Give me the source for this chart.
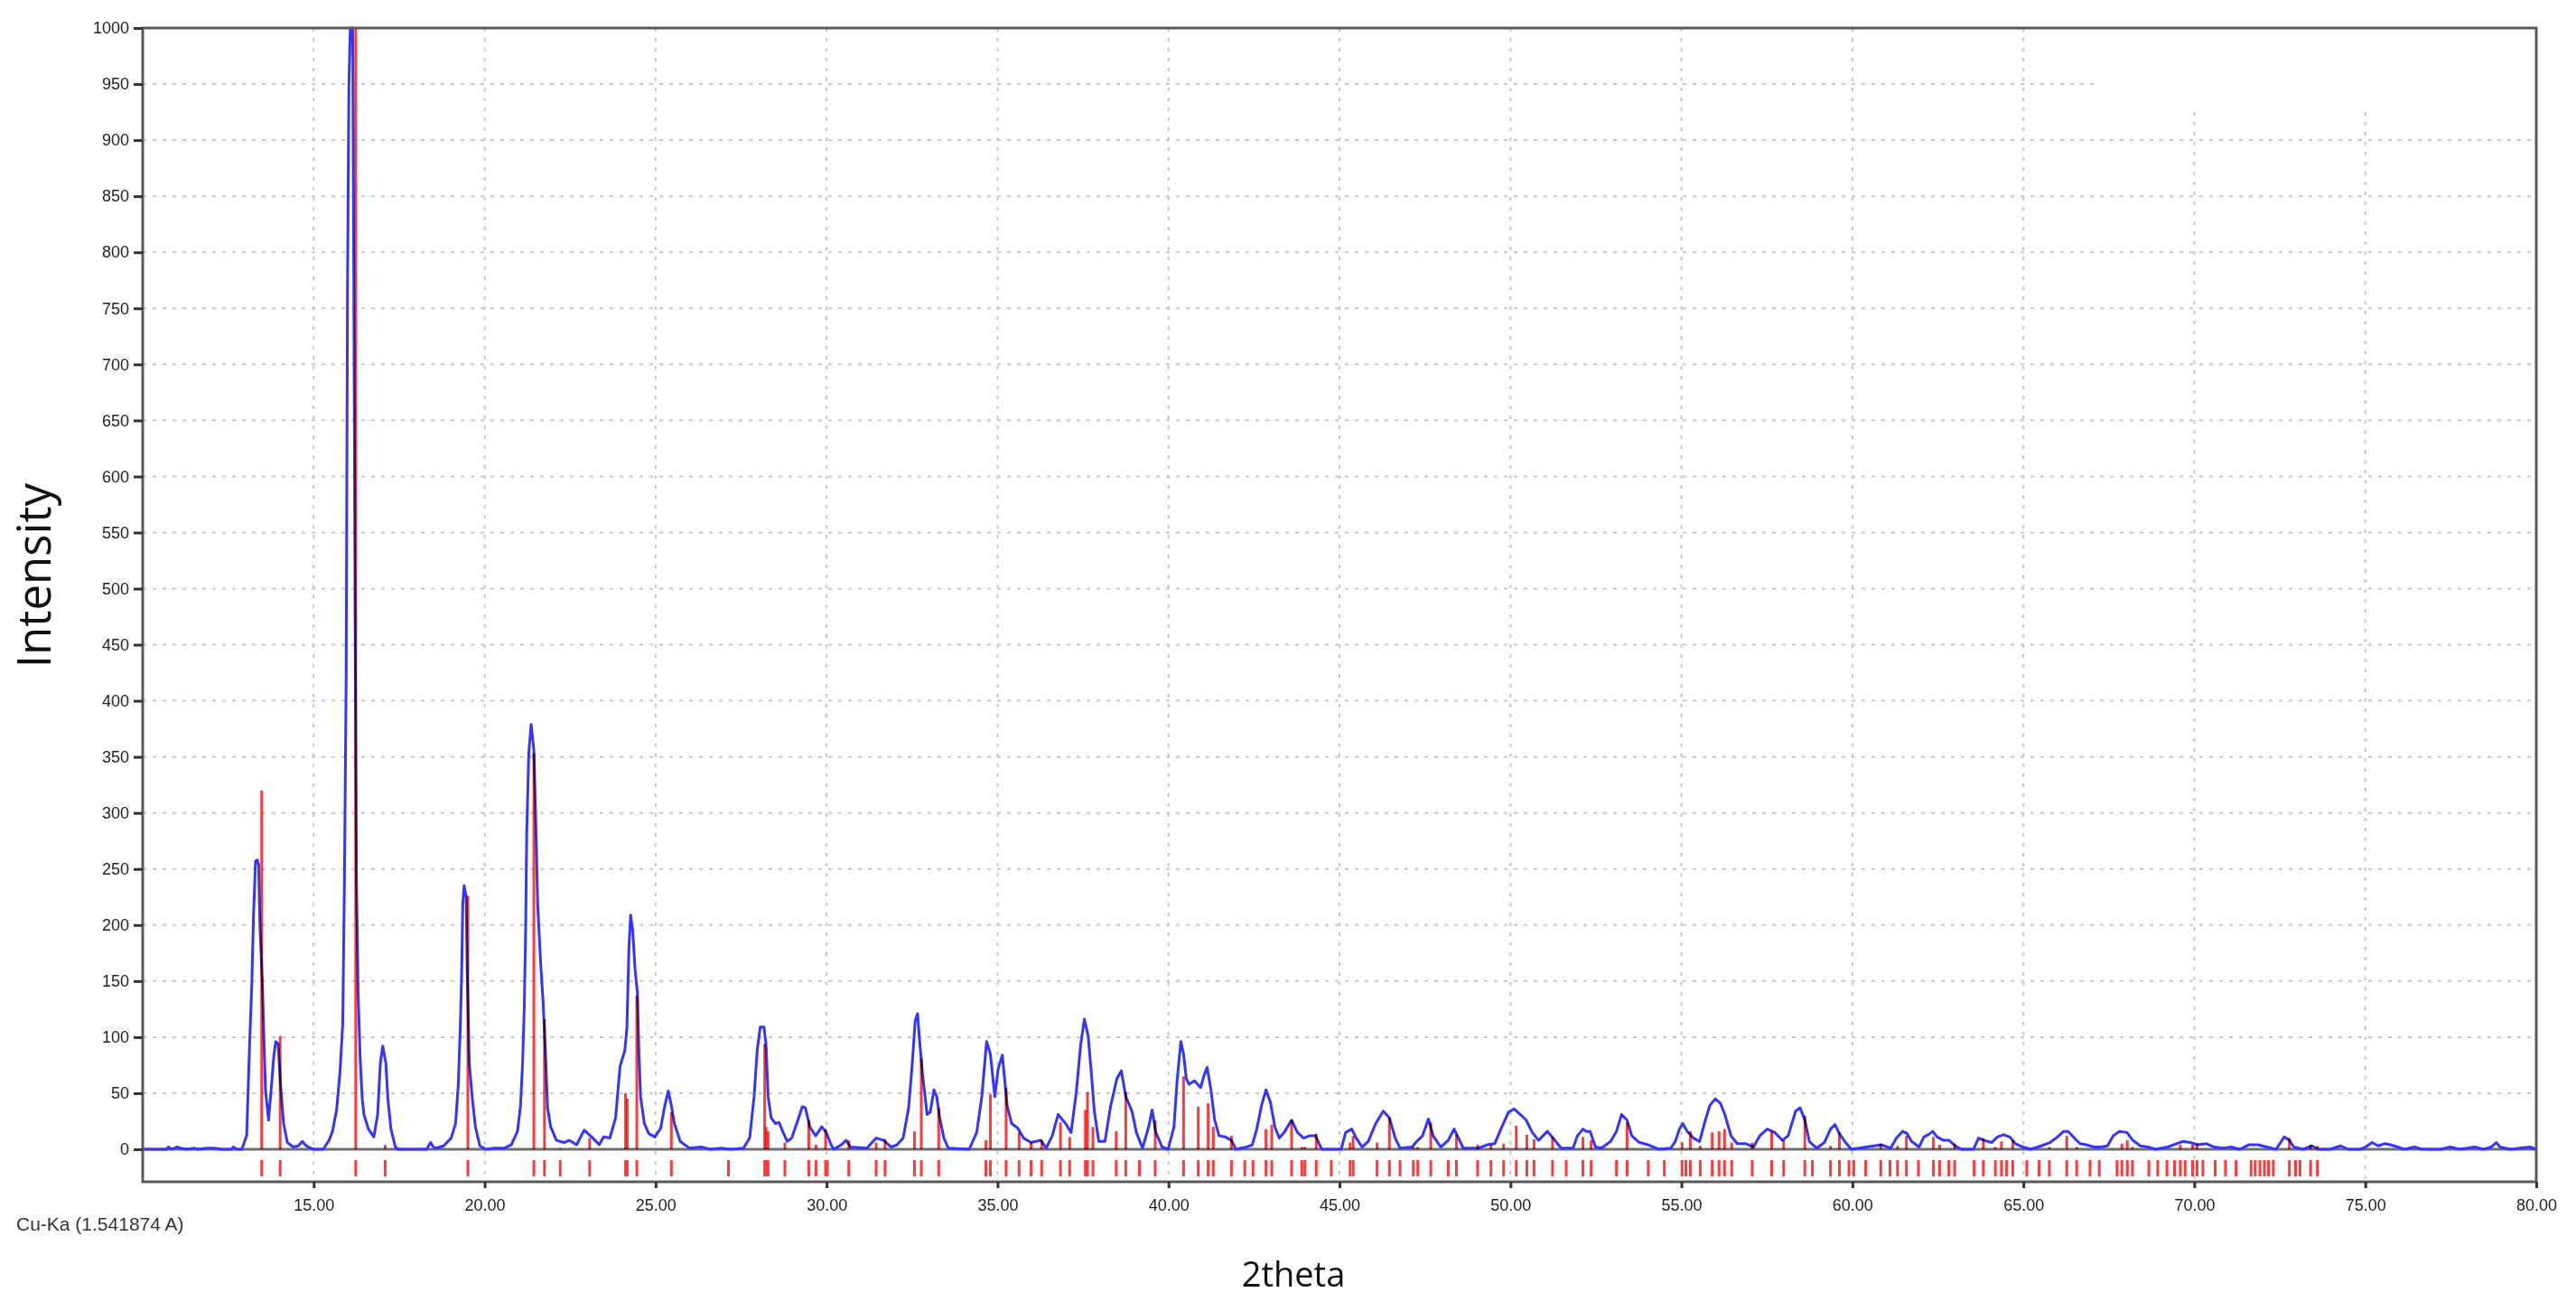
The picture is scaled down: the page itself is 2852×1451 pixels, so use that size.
<!DOCTYPE html>
<html>
<head>
<meta charset="utf-8">
<script src="https://cdn.jsdelivr.net/npm/d3@7"></script>
<style>
  body { margin: 0; background: #fff; }
  svg { display: block; }
</style>
</head>
<body>
<svg></svg>
<script>
'use strict'

// measured scan, [2theta, counts]
const scan = [
  [10.0, 0], [10.7, 0], [10.75, 2], [10.85, 0], [11.0, 2], [11.1, 1], [11.3, 0], [11.5, 1], [11.6, 0],
  [11.9, 1], [12.1, 1], [12.3, 0], [12.6, 0], [12.65, 2], [12.75, 0], [12.9, 0],
  [13.04, 12], [13.12, 88], [13.19, 147], [13.24, 208], [13.3, 257], [13.35, 258], [13.39, 254],
  [13.43, 198], [13.5, 149], [13.54, 104], [13.59, 53], [13.68, 26], [13.77, 58], [13.83, 82],
  [13.89, 96], [13.96, 94], [14.03, 58], [14.12, 23], [14.23, 6], [14.4, 2], [14.55, 3], [14.67, 7],
  [14.75, 4], [14.84, 2], [15.0, 0], [15.28, 0], [15.45, 8], [15.55, 16], [15.67, 35], [15.77, 69],
  [15.85, 112], [15.9, 241], [15.95, 421], [15.99, 772], [16.03, 948], [16.07, 1000], [16.14, 1000],
  [16.17, 800], [16.21, 490], [16.25, 240], [16.3, 139], [16.36, 80], [16.42, 45], [16.47, 31],
  [16.6, 18], [16.76, 11], [16.87, 31], [16.95, 77], [17.02, 92], [17.11, 77], [17.17, 45],
  [17.26, 18], [17.39, 2], [17.48, 0], [18.3, 0], [18.36, 3], [18.42, 6], [18.5, 2], [18.58, 1],
  [18.8, 3], [19.02, 10], [19.15, 23], [19.23, 58], [19.29, 112], [19.33, 160], [19.36, 219],
  [19.4, 235], [19.46, 225], [19.49, 160], [19.55, 77], [19.64, 45], [19.73, 20], [19.86, 3],
  [20.04, 0], [20.3, 1], [20.56, 1], [20.78, 4], [20.96, 16], [21.05, 39], [21.11, 77], [21.16, 128],
  [21.2, 198], [21.23, 281], [21.29, 353], [21.36, 379], [21.44, 356], [21.49, 300], [21.55, 219],
  [21.64, 165], [21.71, 131], [21.78, 85], [21.84, 37], [21.93, 20], [22.1, 8], [22.32, 6],
  [22.47, 8], [22.69, 4], [22.91, 17], [23.13, 11], [23.35, 4], [23.48, 11], [23.66, 10],
  [23.83, 28], [23.96, 74], [24.1, 88], [24.16, 108], [24.22, 180], [24.27, 209], [24.33, 195],
  [24.4, 160], [24.47, 139], [24.51, 88], [24.56, 47], [24.67, 23], [24.8, 14], [24.98, 11],
  [25.15, 19], [25.27, 39], [25.37, 52], [25.46, 39], [25.55, 23], [25.72, 7], [25.99, 1],
  [26.34, 2], [26.6, 0], [26.9, 1], [27.2, 0], [27.57, 1], [27.75, 10], [27.88, 47], [27.97, 88],
  [28.06, 109], [28.17, 109], [28.23, 93], [28.29, 47], [28.38, 28], [28.5, 23], [28.61, 24],
  [28.73, 15], [28.85, 7], [28.98, 10], [29.16, 26], [29.29, 38], [29.38, 37], [29.51, 20],
  [29.68, 12], [29.86, 20], [29.99, 15], [30.13, 4], [30.21, 0], [30.43, 4], [30.57, 8], [30.7, 2],
  [31.18, 1], [31.45, 10], [31.67, 8], [31.89, 2], [32.06, 4], [32.24, 10], [32.4, 37], [32.5, 74],
  [32.59, 114], [32.66, 121], [32.73, 93], [32.81, 66], [32.94, 31], [33.03, 33], [33.14, 53],
  [33.22, 47], [33.31, 28], [33.43, 10], [33.56, 1], [34.17, 0], [34.39, 15], [34.54, 47],
  [34.68, 96], [34.79, 85], [34.92, 47], [35.02, 72], [35.14, 84], [35.28, 39], [35.41, 23],
  [35.59, 19], [35.76, 10], [35.98, 6], [36.27, 8], [36.42, 1], [36.6, 12], [36.77, 31], [36.99, 23],
  [37.15, 15], [37.3, 50], [37.43, 93], [37.54, 116], [37.65, 101], [37.74, 69], [37.83, 34],
  [37.96, 7], [38.14, 7], [38.31, 39], [38.49, 63], [38.62, 70], [38.75, 47], [38.93, 34],
  [39.06, 15], [39.24, 1], [39.42, 20], [39.52, 35], [39.63, 15], [39.81, 2], [39.99, 0],
  [40.16, 20], [40.25, 61], [40.36, 96], [40.44, 85], [40.52, 63], [40.6, 58], [40.76, 61],
  [40.94, 55], [41.04, 66], [41.13, 73], [41.24, 53], [41.35, 26], [41.48, 12], [41.66, 11],
  [41.84, 8], [41.97, 0], [42.28, 2], [42.45, 4], [42.58, 18], [42.72, 39], [42.85, 53], [42.98, 42],
  [43.11, 20], [43.24, 10], [43.38, 15], [43.6, 26], [43.77, 15], [43.95, 10], [44.12, 12],
  [44.3, 12], [44.48, 0], [45.05, 0], [45.18, 15], [45.36, 18], [45.49, 10], [45.66, 2], [45.84, 7],
  [46.06, 23], [46.28, 34], [46.46, 28], [46.63, 10], [46.77, 1], [47.12, 2], [47.29, 8], [47.43, 12],
  [47.6, 27], [47.74, 12], [47.96, 2], [48.18, 8], [48.35, 18], [48.48, 10], [48.62, 1], [49.06, 1],
  [49.32, 4], [49.54, 5], [49.72, 18], [49.94, 33], [50.11, 36], [50.29, 31], [50.46, 26],
  [50.64, 15], [50.82, 8], [51.08, 16], [51.3, 8], [51.48, 1], [51.83, 1], [51.96, 12], [52.12, 18],
  [52.22, 16], [52.33, 16], [52.49, 2], [52.66, 1], [52.93, 7], [53.1, 16], [53.25, 31], [53.41, 26],
  [53.55, 12], [53.77, 6], [54.03, 4], [54.34, 0], [54.69, 1], [54.82, 7], [54.94, 18], [55.04, 23],
  [55.17, 16], [55.35, 10], [55.53, 7], [55.7, 26], [55.83, 39], [55.99, 45], [56.14, 41],
  [56.27, 31], [56.45, 12], [56.63, 5], [56.89, 5], [57.11, 2], [57.29, 12], [57.51, 18], [57.73, 15],
  [57.95, 8], [58.12, 12], [58.34, 34], [58.47, 37], [58.61, 26], [58.74, 7], [58.96, 1], [59.18, 6],
  [59.36, 18], [59.49, 22], [59.62, 14], [59.8, 6], [59.97, 0], [60.41, 2], [60.63, 3], [60.85, 4],
  [61.12, 1], [61.29, 10], [61.47, 16], [61.6, 14], [61.73, 7], [61.95, 2], [62.09, 11], [62.22, 13],
  [62.35, 16], [62.48, 11], [62.66, 8], [62.83, 8], [63.01, 3], [63.19, 0], [63.54, 0], [63.69, 10],
  [63.85, 8], [64.07, 6], [64.24, 11], [64.42, 13], [64.6, 11], [64.77, 5], [64.99, 2], [65.21, 0],
  [65.52, 3], [65.78, 6], [66.0, 11], [66.18, 16], [66.31, 16], [66.49, 10], [66.66, 5], [66.84, 4],
  [67.06, 2], [67.28, 2], [67.46, 3], [67.63, 12], [67.81, 16], [68.03, 15], [68.2, 8], [68.42, 3],
  [68.64, 2], [68.87, 0], [69.22, 2], [69.39, 4], [69.66, 7], [69.88, 6], [70.1, 4], [70.36, 5],
  [70.58, 2], [70.85, 1], [71.07, 2], [71.33, 0], [71.59, 4], [71.86, 4], [72.12, 2], [72.39, 0],
  [72.63, 11], [72.78, 8], [72.91, 2], [73.18, 0], [73.44, 3], [73.62, 0], [73.97, 0], [74.28, 3],
  [74.5, 0], [74.85, 0], [75.01, 2], [75.2, 6], [75.38, 3], [75.56, 5], [75.73, 4], [75.95, 2],
  [76.13, 0], [76.44, 2], [76.66, 0], [77.2, 0], [77.49, 2], [77.76, 0], [78.2, 2], [78.46, 0],
  [78.68, 2], [78.83, 6], [78.94, 2], [79.25, 0], [79.82, 2], [80.0, 0]
]

// reference pattern: peak positions and relative intensities
const refTheta = [
  13.48, 14.02, 16.23, 17.09, 19.51, 21.44, 21.75, 22.21, 23.07, 24.12, 24.17, 24.45, 25.46, 27.13,
  28.19, 28.23, 28.29, 28.78, 29.48, 29.69, 29.97, 30.02, 30.65, 31.45, 31.71, 32.57, 32.77, 33.28,
  34.66, 34.79, 35.25, 35.63, 35.98, 36.29, 36.84, 37.11, 37.57, 37.63, 37.79, 38.47, 38.75, 39.15,
  39.61, 40.44, 40.87, 41.16, 41.31, 41.84, 42.23, 42.47, 42.85, 43.02, 43.6, 43.9, 43.99, 44.32,
  44.76, 45.31, 45.4, 46.1, 46.46, 46.77, 47.16, 47.29, 47.67, 48.18, 48.42, 49.04, 49.43, 49.8,
  50.17, 50.48, 50.69, 51.23, 51.63, 52.12, 52.36, 53.1, 53.41, 54.03, 54.5, 55.02, 55.13, 55.26,
  55.55, 55.9, 56.1, 56.26, 56.47, 57.07, 57.64, 57.99, 58.61, 58.83, 59.36, 59.62, 59.9, 60.04,
  60.39, 60.83, 61.1, 61.32, 61.58, 61.93, 62.37, 62.55, 62.82, 62.99, 63.56, 63.83, 64.18, 64.36,
  64.51, 64.69, 65.1, 65.46, 65.76, 66.27, 66.56, 66.95, 67.22, 67.74, 67.88, 68.04, 68.19, 68.67,
  68.93, 69.2, 69.42, 69.59, 69.73, 69.95, 70.08, 70.25, 70.61, 70.91, 71.22, 71.66, 71.78, 71.92,
  72.05, 72.17, 72.31, 72.78, 72.96, 73.09, 73.4, 73.6
]
const refIntensity = [
  320, 101, 1000, 4, 226, 353, 116, 1, 10, 50, 45, 137, 33, 0,
  94, 20, 16, 6, 26, 4, 18, 0, 8, 6, 9, 16, 81, 37,
  8, 49, 55, 15, 6, 8, 24, 11, 35, 51, 20, 16, 51, 0,
  26, 65, 38, 41, 20, 12, 0, 0, 18, 22, 26, 2, 2, 14,
  0, 6, 12, 6, 28, 0, 2, 2, 24, 0, 13, 4, 4, 5,
  21, 13, 9, 11, 0, 11, 8, 0, 24, 0, 0, 6, 0, 16,
  3, 15, 16, 18, 6, 6, 16, 8, 30, 0, 3, 15, 0, 0,
  0, 5, 0, 3, 12, 0, 11, 4, 0, 5, 0, 10, 2, 7,
  0, 8, 0, 0, 2, 12, 2, 0, 0, 0, 5, 8, 2, 0,
  0, 0, 0, 4, 0, 4, 5, 0, 0, 0, 0, 0, 0, 0,
  0, 0, 0, 10, 0, 0, 4, 3
]

const yTicks = d3.range(0, 1001, 50)
const xTicks = d3.range(15, 81, 5)

const width = 2852,
  height = 1451

const plot = { left: 158, right: 2808, top: 31, base: 1272, bottom: 1308 }

const svg = d3
  .select('svg')
  .attr('width', width)
  .attr('height', height)

const x = d3
  .scaleLinear()
  .domain([10, 80])
  .range([plot.left, plot.right])

const y = d3
  .scaleLinear()
  .domain([0, 1000])
  .range([plot.base, plot.top])

// grid
const grid = svg.append('g').attr('class', 'grid')

grid
  .selectAll('.hgrid')
  .data(yTicks.filter(d => d > 0 && d < 1000))
  .enter()
  .append('line')
  .attr('x1', plot.left)
  .attr('x2', d => (d === 950 ? x(67.1) : plot.right))
  .attr('y1', d => y(d))
  .attr('y2', d => y(d))
  .attr('stroke', '#c8c8c8')
  .attr('stroke-width', 2)
  .attr('stroke-dasharray', '4,7')

grid
  .selectAll('.vgrid')
  .data(xTicks.filter(d => d < 80))
  .enter()
  .append('line')
  .attr('x1', d => x(d))
  .attr('x2', d => x(d))
  .attr('y1', d => (d >= 70 ? y(925) : plot.top))
  .attr('y2', plot.bottom)
  .attr('stroke', '#c8c8c8')
  .attr('stroke-width', 2)
  .attr('stroke-dasharray', '4,7')

// zero line
svg
  .append('line')
  .attr('x1', plot.left)
  .attr('x2', plot.right)
  .attr('y1', y(0))
  .attr('y2', y(0))
  .attr('stroke', '#6e6e6e')
  .attr('stroke-width', 3)

// measured pattern
const line = d3
  .line()
  .x(d => x(d[0]))
  .y(d => y(d[1]))

svg
  .append('path')
  .datum(scan)
  .attr('d', line)
  .attr('fill', 'none')
  .attr('stroke', '#3434ff')
  .attr('stroke-width', 3)
  .attr('stroke-linejoin', 'round')

// reference sticks
const refs = refTheta.map((t, i) => ({ t: t, v: refIntensity[i] }))

svg
  .append('g')
  .selectAll('line')
  .data(refs.filter(d => d.v > 0))
  .enter()
  .append('line')
  .attr('x1', d => x(d.t))
  .attr('x2', d => x(d.t))
  .attr('y1', y(0))
  .attr('y2', d => y(d.v))
  .attr('stroke', '#ff3a3a')
  .attr('stroke-width', 3)
  .style('mix-blend-mode', 'multiply')

svg
  .append('g')
  .selectAll('line')
  .data(refs)
  .enter()
  .append('line')
  .attr('x1', d => x(d.t))
  .attr('x2', d => x(d.t))
  .attr('y1', y(0) + 12)
  .attr('y2', y(0) + 30)
  .attr('stroke', '#ff3a3a')
  .attr('stroke-width', 3)

// frame
svg
  .append('rect')
  .attr('x', plot.left)
  .attr('y', plot.top)
  .attr('width', plot.right - plot.left)
  .attr('height', plot.bottom - plot.top)
  .attr('fill', 'none')
  .attr('stroke', '#5a5a5a')
  .attr('stroke-width', 3)

// axes
const yAxis = svg
  .append('g')
  .attr('transform', 'translate(' + plot.left + ',0)')
  .call(
    d3
      .axisLeft(y)
      .tickValues(yTicks)
      .tickSize(10)
      .tickPadding(5)
      .tickFormat(d3.format('d'))
  )

const xAxis = svg
  .append('g')
  .attr('transform', 'translate(0,' + plot.bottom + ')')
  .call(
    d3
      .axisBottom(x)
      .tickValues(xTicks)
      .tickSize(7)
      .tickPadding(12)
      .tickFormat(d3.format('.2f'))
  )

;[yAxis, xAxis].forEach(axis => {
  axis.select('.domain').remove()
  axis.selectAll('.tick line').attr('stroke', '#333').attr('stroke-width', 3)
  axis
    .selectAll('.tick text')
    .attr('fill', '#222')
    .style('font-family', 'Liberation Sans, Arial, sans-serif')
    .style('font-size', '18px')
})

// labels
svg
  .append('text')
  .attr('transform', 'translate(56,' + 637 + ') rotate(-90)')
  .attr('text-anchor', 'middle')
  .style('font-family', 'Open Sans, sans-serif')
  .style('font-size', '51px')
  .attr('fill', '#111')
  .text('Intensity')

svg
  .append('text')
  .attr('x', 1432)
  .attr('y', 1424)
  .attr('text-anchor', 'middle')
  .style('font-family', 'Open Sans, sans-serif')
  .style('font-size', '38px')
  .attr('fill', '#111')
  .text('2theta')

svg
  .append('text')
  .attr('x', 18)
  .attr('y', 1362)
  .style('font-family', 'Liberation Sans, Arial, sans-serif')
  .style('font-size', '21px')
  .attr('fill', '#333')
  .text('Cu-Ka (1.541874 A)')
</script>
</body>
</html>
